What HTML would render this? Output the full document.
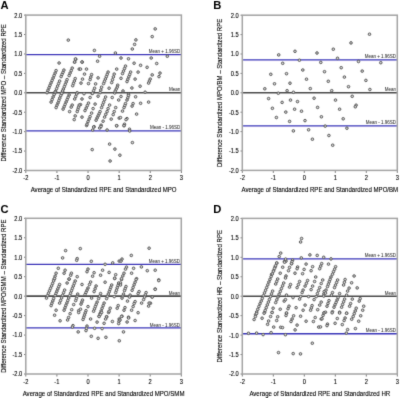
<!DOCTYPE html>
<html><head><meta charset="utf-8"><style>
html,body{margin:0;padding:0;background:#fff;width:400px;height:398px;overflow:hidden;}
svg{display:block;font-family:"Liberation Sans", sans-serif;}
.t{stroke:#000;stroke-width:0.1;}
circle{fill:#d0d0d0;stroke:#505050;stroke-width:0.95;}
</style></head><body>
<svg width="400" height="398" viewBox="0 0 400 398">
<defs><filter id="bl" filterUnits="userSpaceOnUse" x="0" y="0" width="400" height="398"><feConvolveMatrix order="3" kernelMatrix="0.01134 0.08382 0.01134 0.08382 0.61935 0.08382 0.01134 0.08382 0.01134" preserveAlpha="false" edgeMode="duplicate"/></filter></defs>
<rect width="400" height="398" fill="#fff"/>
<g filter="url(#bl)">
<text x="0.5" y="9.3" font-size="11.2" font-weight="bold" fill="#000">A</text>
<text class="t" font-size="5.7" text-anchor="end" fill="#000" transform="translate(22.20,17.50) scale(1,1.1)">2.0</text>
<line x1="24.00" x2="25.80" y1="15.10" y2="15.10" stroke="#6a6a6a" stroke-width="0.9"/>
<text class="t" font-size="5.7" text-anchor="end" fill="#000" transform="translate(22.20,36.92) scale(1,1.1)">1.5</text>
<line x1="24.00" x2="25.80" y1="34.52" y2="34.52" stroke="#6a6a6a" stroke-width="0.9"/>
<text class="t" font-size="5.7" text-anchor="end" fill="#000" transform="translate(22.20,56.35) scale(1,1.1)">1.0</text>
<line x1="24.00" x2="25.80" y1="53.95" y2="53.95" stroke="#6a6a6a" stroke-width="0.9"/>
<text class="t" font-size="5.7" text-anchor="end" fill="#000" transform="translate(22.20,75.78) scale(1,1.1)">0.5</text>
<line x1="24.00" x2="25.80" y1="73.38" y2="73.38" stroke="#6a6a6a" stroke-width="0.9"/>
<text class="t" font-size="5.7" text-anchor="end" fill="#000" transform="translate(22.20,95.20) scale(1,1.1)">0.0</text>
<line x1="24.00" x2="25.80" y1="92.80" y2="92.80" stroke="#6a6a6a" stroke-width="0.9"/>
<text class="t" font-size="5.7" text-anchor="end" fill="#000" transform="translate(22.20,114.62) scale(1,1.1)">-0.5</text>
<line x1="24.00" x2="25.80" y1="112.22" y2="112.22" stroke="#6a6a6a" stroke-width="0.9"/>
<text class="t" font-size="5.7" text-anchor="end" fill="#000" transform="translate(22.20,134.05) scale(1,1.1)">-1.0</text>
<line x1="24.00" x2="25.80" y1="131.65" y2="131.65" stroke="#6a6a6a" stroke-width="0.9"/>
<text class="t" font-size="5.7" text-anchor="end" fill="#000" transform="translate(22.20,153.47) scale(1,1.1)">-1.5</text>
<line x1="24.00" x2="25.80" y1="151.07" y2="151.07" stroke="#6a6a6a" stroke-width="0.9"/>
<text class="t" font-size="5.7" text-anchor="end" fill="#000" transform="translate(22.20,172.90) scale(1,1.1)">-2.0</text>
<line x1="24.00" x2="25.80" y1="170.50" y2="170.50" stroke="#6a6a6a" stroke-width="0.9"/>
<text class="t" font-size="5.7" text-anchor="middle" fill="#000" transform="translate(25.80,180.40) scale(1,1.1)">-2</text>
<line x1="25.80" x2="25.80" y1="170.50" y2="173.00" stroke="#6a6a6a" stroke-width="0.9"/>
<text class="t" font-size="5.7" text-anchor="middle" fill="#000" transform="translate(56.92,180.40) scale(1,1.1)">-1</text>
<line x1="56.92" x2="56.92" y1="170.50" y2="173.00" stroke="#6a6a6a" stroke-width="0.9"/>
<text class="t" font-size="5.7" text-anchor="middle" fill="#000" transform="translate(88.04,180.40) scale(1,1.1)">0</text>
<line x1="88.04" x2="88.04" y1="170.50" y2="173.00" stroke="#6a6a6a" stroke-width="0.9"/>
<text class="t" font-size="5.7" text-anchor="middle" fill="#000" transform="translate(119.16,180.40) scale(1,1.1)">1</text>
<line x1="119.16" x2="119.16" y1="170.50" y2="173.00" stroke="#6a6a6a" stroke-width="0.9"/>
<text class="t" font-size="5.7" text-anchor="middle" fill="#000" transform="translate(150.28,180.40) scale(1,1.1)">2</text>
<line x1="150.28" x2="150.28" y1="170.50" y2="173.00" stroke="#6a6a6a" stroke-width="0.9"/>
<text class="t" font-size="5.7" text-anchor="middle" fill="#000" transform="translate(181.40,180.40) scale(1,1.1)">3</text>
<line x1="181.40" x2="181.40" y1="170.50" y2="173.00" stroke="#6a6a6a" stroke-width="0.9"/>
<text class="t" font-size="6.1" text-anchor="middle" fill="#000" transform="translate(103.60,192.30) scale(1,1.07)">Average of Standardized RPE and Standardized MPO</text>
<text x="0" y="0" class="t" font-size="6.1" fill="#000" text-anchor="middle" transform="translate(6.10,92.80) rotate(-90) scale(1,1.07)">Difference Standardized MPO – Standardized RPE</text>
<line x1="25.8" x2="181.4" y1="92.80" y2="92.80" stroke="#4a4a4a" stroke-width="1.6"/>
<line x1="25.8" x2="181.4" y1="54.53" y2="54.53" stroke="#3a34b8" stroke-width="1.3"/>
<line x1="25.8" x2="181.4" y1="130.87" y2="130.87" stroke="#3a34b8" stroke-width="1.3"/>
<text x="180.20" y="91.40" font-size="4.5" text-anchor="end" fill="#111">Mean</text>
<text x="180.20" y="53.13" font-size="4.5" text-anchor="end" fill="#111">Mean + 1.96SD</text>
<text x="180.20" y="129.47" font-size="4.5" text-anchor="end" fill="#111">Mean - 1.96SD</text>
<circle cx="68.3" cy="40.1" r="1.3"/>
<circle cx="75.8" cy="59.2" r="1.3"/>
<circle cx="74.5" cy="62.1" r="1.3"/>
<circle cx="82.3" cy="62.1" r="1.3"/>
<circle cx="59.1" cy="63.0" r="1.3"/>
<circle cx="94.4" cy="50.4" r="1.3"/>
<circle cx="115.4" cy="53.0" r="1.3"/>
<circle cx="135.9" cy="39.9" r="1.3"/>
<circle cx="134.6" cy="44.4" r="1.3"/>
<circle cx="132.3" cy="49.0" r="1.3"/>
<circle cx="155.2" cy="28.9" r="1.3"/>
<circle cx="152.2" cy="36.6" r="1.3"/>
<circle cx="160.0" cy="73.1" r="1.3"/>
<circle cx="159.0" cy="76.6" r="1.3"/>
<circle cx="167.3" cy="56.2" r="1.3"/>
<circle cx="79.2" cy="69.1" r="1.3"/>
<circle cx="77.2" cy="92.7" r="1.3"/>
<circle cx="99.6" cy="56.2" r="1.3"/>
<circle cx="97.6" cy="61.2" r="1.3"/>
<circle cx="82.0" cy="62.0" r="1.3"/>
<circle cx="86.5" cy="69.1" r="1.3"/>
<circle cx="80.5" cy="69.1" r="1.3"/>
<circle cx="84.5" cy="74.1" r="1.3"/>
<circle cx="82.5" cy="79.1" r="1.3"/>
<circle cx="81.0" cy="83.1" r="1.3"/>
<circle cx="88.5" cy="83.6" r="1.3"/>
<circle cx="98.1" cy="77.9" r="1.3"/>
<circle cx="95.6" cy="83.9" r="1.3"/>
<circle cx="116.7" cy="69.1" r="1.3"/>
<circle cx="109.1" cy="88.2" r="1.3"/>
<circle cx="117.7" cy="85.2" r="1.3"/>
<circle cx="84.0" cy="93.7" r="1.3"/>
<circle cx="121.0" cy="58.0" r="1.3"/>
<circle cx="128.5" cy="58.8" r="1.3"/>
<circle cx="151.2" cy="58.0" r="1.3"/>
<circle cx="134.1" cy="63.2" r="1.3"/>
<circle cx="140.6" cy="65.3" r="1.3"/>
<circle cx="156.7" cy="63.5" r="1.3"/>
<circle cx="147.1" cy="67.3" r="1.3"/>
<circle cx="138.1" cy="72.1" r="1.3"/>
<circle cx="121.0" cy="78.3" r="1.3"/>
<circle cx="135.1" cy="79.1" r="1.3"/>
<circle cx="152.2" cy="74.9" r="1.3"/>
<circle cx="140.1" cy="86.2" r="1.3"/>
<circle cx="131.9" cy="88.0" r="1.3"/>
<circle cx="123.0" cy="91.0" r="1.3"/>
<circle cx="145.1" cy="92.2" r="1.3"/>
<circle cx="128.5" cy="94.2" r="1.3"/>
<circle cx="72.2" cy="105.1" r="1.3"/>
<circle cx="71.2" cy="107.1" r="1.3"/>
<circle cx="69.6" cy="111.6" r="1.3"/>
<circle cx="75.2" cy="115.9" r="1.3"/>
<circle cx="74.2" cy="119.6" r="1.3"/>
<circle cx="92.1" cy="93.5" r="1.3"/>
<circle cx="114.7" cy="93.0" r="1.3"/>
<circle cx="82.0" cy="99.0" r="1.3"/>
<circle cx="90.1" cy="97.5" r="1.3"/>
<circle cx="98.1" cy="96.2" r="1.3"/>
<circle cx="112.2" cy="97.5" r="1.3"/>
<circle cx="118.7" cy="100.0" r="1.3"/>
<circle cx="80.5" cy="104.6" r="1.3"/>
<circle cx="95.1" cy="104.1" r="1.3"/>
<circle cx="93.1" cy="108.6" r="1.3"/>
<circle cx="109.6" cy="105.1" r="1.3"/>
<circle cx="115.7" cy="107.6" r="1.3"/>
<circle cx="108.1" cy="108.6" r="1.3"/>
<circle cx="91.6" cy="113.1" r="1.3"/>
<circle cx="82.0" cy="117.1" r="1.3"/>
<circle cx="103.1" cy="121.2" r="1.3"/>
<circle cx="111.2" cy="119.1" r="1.3"/>
<circle cx="119.2" cy="118.1" r="1.3"/>
<circle cx="101.1" cy="125.2" r="1.3"/>
<circle cx="94.1" cy="126.7" r="1.3"/>
<circle cx="116.7" cy="125.7" r="1.3"/>
<circle cx="121.0" cy="96.5" r="1.3"/>
<circle cx="135.6" cy="96.8" r="1.3"/>
<circle cx="140.6" cy="103.3" r="1.3"/>
<circle cx="148.6" cy="102.1" r="1.3"/>
<circle cx="122.5" cy="111.1" r="1.3"/>
<circle cx="136.6" cy="114.1" r="1.3"/>
<circle cx="120.5" cy="117.6" r="1.3"/>
<circle cx="129.5" cy="129.2" r="1.3"/>
<circle cx="86.6" cy="125.5" r="1.3"/>
<circle cx="99.7" cy="128.0" r="1.3"/>
<circle cx="92.2" cy="149.6" r="1.3"/>
<circle cx="101.0" cy="126.5" r="1.3"/>
<circle cx="116.6" cy="125.8" r="1.3"/>
<circle cx="124.1" cy="125.5" r="1.3"/>
<circle cx="107.1" cy="130.0" r="1.3"/>
<circle cx="129.7" cy="131.0" r="1.3"/>
<circle cx="109.6" cy="144.1" r="1.3"/>
<circle cx="114.9" cy="149.1" r="1.3"/>
<circle cx="119.9" cy="155.2" r="1.3"/>
<circle cx="110.1" cy="161.0" r="1.3"/>
<circle cx="132.4" cy="142.6" r="1.3"/>
<circle cx="47.0" cy="92.7" r="1.3"/>
<circle cx="48.0" cy="90.2" r="1.3"/>
<circle cx="49.0" cy="87.8" r="1.3"/>
<circle cx="50.0" cy="85.3" r="1.3"/>
<circle cx="51.0" cy="82.9" r="1.3"/>
<circle cx="52.1" cy="80.4" r="1.3"/>
<circle cx="53.1" cy="78.0" r="1.3"/>
<circle cx="54.1" cy="75.5" r="1.3"/>
<circle cx="55.1" cy="73.1" r="1.3"/>
<circle cx="56.1" cy="70.6" r="1.3"/>
<circle cx="54.6" cy="93.7" r="1.3"/>
<circle cx="55.6" cy="91.2" r="1.3"/>
<circle cx="56.6" cy="88.7" r="1.3"/>
<circle cx="57.6" cy="86.1" r="1.3"/>
<circle cx="58.6" cy="83.6" r="1.3"/>
<circle cx="59.6" cy="81.1" r="1.3"/>
<circle cx="61.1" cy="76.6" r="1.3"/>
<circle cx="62.0" cy="74.4" r="1.3"/>
<circle cx="63.0" cy="72.3" r="1.3"/>
<circle cx="63.9" cy="70.1" r="1.3"/>
<circle cx="61.6" cy="93.7" r="1.3"/>
<circle cx="62.5" cy="91.3" r="1.3"/>
<circle cx="63.4" cy="89.0" r="1.3"/>
<circle cx="64.3" cy="86.7" r="1.3"/>
<circle cx="65.3" cy="84.3" r="1.3"/>
<circle cx="66.2" cy="81.9" r="1.3"/>
<circle cx="67.1" cy="79.6" r="1.3"/>
<circle cx="69.1" cy="75.6" r="1.3"/>
<circle cx="70.1" cy="73.1" r="1.3"/>
<circle cx="71.2" cy="70.6" r="1.3"/>
<circle cx="72.2" cy="68.1" r="1.3"/>
<circle cx="75.4" cy="59.0" r="1.3"/>
<circle cx="74.7" cy="62.0" r="1.3"/>
<circle cx="72.7" cy="85.7" r="1.3"/>
<circle cx="73.5" cy="83.3" r="1.3"/>
<circle cx="74.4" cy="81.0" r="1.3"/>
<circle cx="75.2" cy="78.6" r="1.3"/>
<circle cx="91.6" cy="74.6" r="1.3"/>
<circle cx="90.8" cy="77.1" r="1.3"/>
<circle cx="90.1" cy="79.6" r="1.3"/>
<circle cx="108.1" cy="72.1" r="1.3"/>
<circle cx="107.2" cy="74.4" r="1.3"/>
<circle cx="106.3" cy="76.7" r="1.3"/>
<circle cx="105.4" cy="79.0" r="1.3"/>
<circle cx="104.5" cy="81.3" r="1.3"/>
<circle cx="103.6" cy="83.6" r="1.3"/>
<circle cx="114.2" cy="74.1" r="1.3"/>
<circle cx="113.4" cy="76.9" r="1.3"/>
<circle cx="112.5" cy="79.8" r="1.3"/>
<circle cx="111.7" cy="82.6" r="1.3"/>
<circle cx="94.6" cy="88.2" r="1.3"/>
<circle cx="93.6" cy="90.7" r="1.3"/>
<circle cx="92.6" cy="93.2" r="1.3"/>
<circle cx="101.6" cy="87.2" r="1.3"/>
<circle cx="100.8" cy="90.0" r="1.3"/>
<circle cx="100.1" cy="92.7" r="1.3"/>
<circle cx="117.2" cy="87.2" r="1.3"/>
<circle cx="116.2" cy="89.2" r="1.3"/>
<circle cx="115.2" cy="91.2" r="1.3"/>
<circle cx="125.5" cy="66.1" r="1.3"/>
<circle cx="124.5" cy="68.6" r="1.3"/>
<circle cx="123.5" cy="71.1" r="1.3"/>
<circle cx="122.5" cy="73.6" r="1.3"/>
<circle cx="130.6" cy="72.1" r="1.3"/>
<circle cx="129.7" cy="74.5" r="1.3"/>
<circle cx="128.8" cy="76.8" r="1.3"/>
<circle cx="127.9" cy="79.2" r="1.3"/>
<circle cx="127.0" cy="81.6" r="1.3"/>
<circle cx="150.2" cy="79.1" r="1.3"/>
<circle cx="149.4" cy="81.1" r="1.3"/>
<circle cx="148.6" cy="83.1" r="1.3"/>
<circle cx="55.1" cy="92.0" r="1.3"/>
<circle cx="54.1" cy="94.5" r="1.3"/>
<circle cx="53.1" cy="97.0" r="1.3"/>
<circle cx="52.1" cy="99.6" r="1.3"/>
<circle cx="51.1" cy="102.1" r="1.3"/>
<circle cx="62.6" cy="91.0" r="1.3"/>
<circle cx="61.7" cy="93.4" r="1.3"/>
<circle cx="60.7" cy="95.7" r="1.3"/>
<circle cx="59.8" cy="98.1" r="1.3"/>
<circle cx="58.9" cy="100.5" r="1.3"/>
<circle cx="58.0" cy="102.9" r="1.3"/>
<circle cx="57.0" cy="105.2" r="1.3"/>
<circle cx="56.1" cy="107.6" r="1.3"/>
<circle cx="69.1" cy="95.0" r="1.3"/>
<circle cx="68.1" cy="97.3" r="1.3"/>
<circle cx="67.1" cy="99.7" r="1.3"/>
<circle cx="66.1" cy="102.0" r="1.3"/>
<circle cx="65.1" cy="104.4" r="1.3"/>
<circle cx="64.1" cy="106.8" r="1.3"/>
<circle cx="63.1" cy="109.1" r="1.3"/>
<circle cx="76.7" cy="94.0" r="1.3"/>
<circle cx="75.7" cy="96.5" r="1.3"/>
<circle cx="74.7" cy="99.0" r="1.3"/>
<circle cx="79.2" cy="105.1" r="1.3"/>
<circle cx="78.5" cy="107.3" r="1.3"/>
<circle cx="77.9" cy="109.4" r="1.3"/>
<circle cx="77.2" cy="111.6" r="1.3"/>
<circle cx="105.6" cy="97.0" r="1.3"/>
<circle cx="104.6" cy="99.7" r="1.3"/>
<circle cx="103.6" cy="102.3" r="1.3"/>
<circle cx="102.6" cy="104.9" r="1.3"/>
<circle cx="101.6" cy="107.6" r="1.3"/>
<circle cx="88.5" cy="103.1" r="1.3"/>
<circle cx="87.3" cy="105.6" r="1.3"/>
<circle cx="86.2" cy="108.1" r="1.3"/>
<circle cx="85.0" cy="110.6" r="1.3"/>
<circle cx="100.1" cy="111.6" r="1.3"/>
<circle cx="99.1" cy="113.8" r="1.3"/>
<circle cx="98.1" cy="115.9" r="1.3"/>
<circle cx="97.1" cy="118.0" r="1.3"/>
<circle cx="96.1" cy="120.2" r="1.3"/>
<circle cx="107.1" cy="111.6" r="1.3"/>
<circle cx="105.8" cy="114.3" r="1.3"/>
<circle cx="104.6" cy="117.1" r="1.3"/>
<circle cx="114.2" cy="111.6" r="1.3"/>
<circle cx="113.2" cy="114.6" r="1.3"/>
<circle cx="90.1" cy="116.6" r="1.3"/>
<circle cx="89.1" cy="119.1" r="1.3"/>
<circle cx="88.0" cy="121.7" r="1.3"/>
<circle cx="87.0" cy="124.2" r="1.3"/>
<circle cx="128.5" cy="95.5" r="1.3"/>
<circle cx="127.8" cy="97.8" r="1.3"/>
<circle cx="127.0" cy="100.0" r="1.3"/>
<circle cx="125.5" cy="103.6" r="1.3"/>
<circle cx="124.8" cy="105.6" r="1.3"/>
<circle cx="124.0" cy="107.6" r="1.3"/>
<circle cx="133.1" cy="103.6" r="1.3"/>
<circle cx="132.1" cy="106.1" r="1.3"/>
<circle cx="127.0" cy="118.6" r="1.3"/>
<circle cx="126.0" cy="119.6" r="1.3"/>
<circle cx="124.5" cy="124.2" r="1.3"/>
<circle cx="124.0" cy="125.7" r="1.3"/>
<circle cx="93.7" cy="127.0" r="1.3"/>
<circle cx="92.7" cy="130.0" r="1.3"/>
<rect x="25.8" y="15.1" width="155.60" height="155.40" fill="none" stroke="#a3a3a3" stroke-width="1.5"/>
<text x="213.2" y="9.3" font-size="11.2" font-weight="bold" fill="#000">B</text>
<text class="t" font-size="5.7" text-anchor="end" fill="#000" transform="translate(238.70,17.60) scale(1,1.1)">2.0</text>
<line x1="240.50" x2="242.30" y1="15.20" y2="15.20" stroke="#6a6a6a" stroke-width="0.9"/>
<text class="t" font-size="5.7" text-anchor="end" fill="#000" transform="translate(238.70,37.00) scale(1,1.1)">1.5</text>
<line x1="240.50" x2="242.30" y1="34.60" y2="34.60" stroke="#6a6a6a" stroke-width="0.9"/>
<text class="t" font-size="5.7" text-anchor="end" fill="#000" transform="translate(238.70,56.40) scale(1,1.1)">1.0</text>
<line x1="240.50" x2="242.30" y1="54.00" y2="54.00" stroke="#6a6a6a" stroke-width="0.9"/>
<text class="t" font-size="5.7" text-anchor="end" fill="#000" transform="translate(238.70,75.80) scale(1,1.1)">0.5</text>
<line x1="240.50" x2="242.30" y1="73.40" y2="73.40" stroke="#6a6a6a" stroke-width="0.9"/>
<text class="t" font-size="5.7" text-anchor="end" fill="#000" transform="translate(238.70,95.20) scale(1,1.1)">0.0</text>
<line x1="240.50" x2="242.30" y1="92.80" y2="92.80" stroke="#6a6a6a" stroke-width="0.9"/>
<text class="t" font-size="5.7" text-anchor="end" fill="#000" transform="translate(238.70,114.60) scale(1,1.1)">-0.5</text>
<line x1="240.50" x2="242.30" y1="112.20" y2="112.20" stroke="#6a6a6a" stroke-width="0.9"/>
<text class="t" font-size="5.7" text-anchor="end" fill="#000" transform="translate(238.70,134.00) scale(1,1.1)">-1.0</text>
<line x1="240.50" x2="242.30" y1="131.60" y2="131.60" stroke="#6a6a6a" stroke-width="0.9"/>
<text class="t" font-size="5.7" text-anchor="end" fill="#000" transform="translate(238.70,153.40) scale(1,1.1)">-1.5</text>
<line x1="240.50" x2="242.30" y1="151.00" y2="151.00" stroke="#6a6a6a" stroke-width="0.9"/>
<text class="t" font-size="5.7" text-anchor="end" fill="#000" transform="translate(238.70,172.80) scale(1,1.1)">-2.0</text>
<line x1="240.50" x2="242.30" y1="170.40" y2="170.40" stroke="#6a6a6a" stroke-width="0.9"/>
<text class="t" font-size="5.7" text-anchor="middle" fill="#000" transform="translate(242.30,180.30) scale(1,1.1)">-2</text>
<line x1="242.30" x2="242.30" y1="170.40" y2="172.90" stroke="#6a6a6a" stroke-width="0.9"/>
<text class="t" font-size="5.7" text-anchor="middle" fill="#000" transform="translate(273.30,180.30) scale(1,1.1)">-1</text>
<line x1="273.30" x2="273.30" y1="170.40" y2="172.90" stroke="#6a6a6a" stroke-width="0.9"/>
<text class="t" font-size="5.7" text-anchor="middle" fill="#000" transform="translate(304.30,180.30) scale(1,1.1)">0</text>
<line x1="304.30" x2="304.30" y1="170.40" y2="172.90" stroke="#6a6a6a" stroke-width="0.9"/>
<text class="t" font-size="5.7" text-anchor="middle" fill="#000" transform="translate(335.30,180.30) scale(1,1.1)">1</text>
<line x1="335.30" x2="335.30" y1="170.40" y2="172.90" stroke="#6a6a6a" stroke-width="0.9"/>
<text class="t" font-size="5.7" text-anchor="middle" fill="#000" transform="translate(366.30,180.30) scale(1,1.1)">2</text>
<line x1="366.30" x2="366.30" y1="170.40" y2="172.90" stroke="#6a6a6a" stroke-width="0.9"/>
<text class="t" font-size="5.7" text-anchor="middle" fill="#000" transform="translate(397.30,180.30) scale(1,1.1)">3</text>
<line x1="397.30" x2="397.30" y1="170.40" y2="172.90" stroke="#6a6a6a" stroke-width="0.9"/>
<text class="t" font-size="6.1" text-anchor="middle" fill="#000" transform="translate(319.80,192.20) scale(1,1.07)">Average of Standardized RPE and Standardized MPO/BM</text>
<text x="0" y="0" class="t" font-size="6.1" fill="#000" text-anchor="middle" transform="translate(222.10,92.80) rotate(-90) scale(1,1.07)">Difference Standardized MPO/BM – Standardized RPE</text>
<line x1="242.3" x2="397.3" y1="92.80" y2="92.80" stroke="#4a4a4a" stroke-width="1.6"/>
<line x1="242.3" x2="397.3" y1="59.82" y2="59.82" stroke="#3a34b8" stroke-width="1.3"/>
<line x1="242.3" x2="397.3" y1="125.78" y2="125.78" stroke="#3a34b8" stroke-width="1.3"/>
<text x="396.10" y="91.40" font-size="4.5" text-anchor="end" fill="#111">Mean</text>
<text x="396.10" y="58.42" font-size="4.5" text-anchor="end" fill="#111">Mean + 1.96SD</text>
<text x="396.10" y="124.38" font-size="4.5" text-anchor="end" fill="#111">Mean - 1.96SD</text>
<circle cx="278.7" cy="54.9" r="1.3"/>
<circle cx="295.0" cy="51.3" r="1.3"/>
<circle cx="282.7" cy="63.3" r="1.3"/>
<circle cx="270.8" cy="74.3" r="1.3"/>
<circle cx="286.5" cy="73.7" r="1.3"/>
<circle cx="317.0" cy="53.0" r="1.3"/>
<circle cx="333.3" cy="49.2" r="1.3"/>
<circle cx="299.4" cy="60.2" r="1.3"/>
<circle cx="320.8" cy="62.4" r="1.3"/>
<circle cx="337.5" cy="58.3" r="1.3"/>
<circle cx="302.8" cy="70.0" r="1.3"/>
<circle cx="324.5" cy="71.7" r="1.3"/>
<circle cx="341.2" cy="67.7" r="1.3"/>
<circle cx="306.5" cy="79.2" r="1.3"/>
<circle cx="344.4" cy="77.1" r="1.3"/>
<circle cx="369.5" cy="34.2" r="1.3"/>
<circle cx="351.0" cy="42.9" r="1.3"/>
<circle cx="358.5" cy="61.5" r="1.3"/>
<circle cx="380.8" cy="62.7" r="1.3"/>
<circle cx="362.2" cy="71.1" r="1.3"/>
<circle cx="274.5" cy="83.8" r="1.3"/>
<circle cx="290.0" cy="83.2" r="1.3"/>
<circle cx="264.8" cy="88.8" r="1.3"/>
<circle cx="278.3" cy="93.2" r="1.3"/>
<circle cx="287.1" cy="90.7" r="1.3"/>
<circle cx="293.4" cy="92.3" r="1.3"/>
<circle cx="268.6" cy="98.6" r="1.3"/>
<circle cx="282.1" cy="102.4" r="1.3"/>
<circle cx="290.5" cy="100.1" r="1.3"/>
<circle cx="272.4" cy="108.3" r="1.3"/>
<circle cx="294.6" cy="109.2" r="1.3"/>
<circle cx="285.8" cy="112.1" r="1.3"/>
<circle cx="276.4" cy="117.5" r="1.3"/>
<circle cx="289.6" cy="121.4" r="1.3"/>
<circle cx="328.3" cy="81.3" r="1.3"/>
<circle cx="310.3" cy="88.6" r="1.3"/>
<circle cx="331.7" cy="90.7" r="1.3"/>
<circle cx="314.1" cy="98.2" r="1.3"/>
<circle cx="297.5" cy="101.6" r="1.3"/>
<circle cx="335.5" cy="100.1" r="1.3"/>
<circle cx="317.6" cy="107.4" r="1.3"/>
<circle cx="301.5" cy="111.2" r="1.3"/>
<circle cx="339.6" cy="109.2" r="1.3"/>
<circle cx="321.4" cy="116.8" r="1.3"/>
<circle cx="305.0" cy="120.6" r="1.3"/>
<circle cx="343.2" cy="118.8" r="1.3"/>
<circle cx="365.9" cy="80.4" r="1.3"/>
<circle cx="348.5" cy="86.7" r="1.3"/>
<circle cx="369.9" cy="89.5" r="1.3"/>
<circle cx="352.2" cy="96.3" r="1.3"/>
<circle cx="356.1" cy="105.2" r="1.3"/>
<circle cx="355.3" cy="106.8" r="1.3"/>
<circle cx="293.4" cy="130.9" r="1.3"/>
<circle cx="325.2" cy="126.1" r="1.3"/>
<circle cx="308.6" cy="129.8" r="1.3"/>
<circle cx="312.4" cy="139.2" r="1.3"/>
<circle cx="328.9" cy="135.5" r="1.3"/>
<circle cx="332.7" cy="145.2" r="1.3"/>
<circle cx="346.9" cy="128.2" r="1.3"/>
<rect x="242.3" y="15.2" width="155.00" height="155.20" fill="none" stroke="#a3a3a3" stroke-width="1.5"/>
<text x="0.5" y="212.8" font-size="11.2" font-weight="bold" fill="#000">C</text>
<text class="t" font-size="5.7" text-anchor="end" fill="#000" transform="translate(22.20,220.70) scale(1,1.1)">2.0</text>
<line x1="24.00" x2="25.80" y1="218.30" y2="218.30" stroke="#6a6a6a" stroke-width="0.9"/>
<text class="t" font-size="5.7" text-anchor="end" fill="#000" transform="translate(22.20,240.16) scale(1,1.1)">1.5</text>
<line x1="24.00" x2="25.80" y1="237.76" y2="237.76" stroke="#6a6a6a" stroke-width="0.9"/>
<text class="t" font-size="5.7" text-anchor="end" fill="#000" transform="translate(22.20,259.62) scale(1,1.1)">1.0</text>
<line x1="24.00" x2="25.80" y1="257.23" y2="257.23" stroke="#6a6a6a" stroke-width="0.9"/>
<text class="t" font-size="5.7" text-anchor="end" fill="#000" transform="translate(22.20,279.09) scale(1,1.1)">0.5</text>
<line x1="24.00" x2="25.80" y1="276.69" y2="276.69" stroke="#6a6a6a" stroke-width="0.9"/>
<text class="t" font-size="5.7" text-anchor="end" fill="#000" transform="translate(22.20,298.55) scale(1,1.1)">0.0</text>
<line x1="24.00" x2="25.80" y1="296.15" y2="296.15" stroke="#6a6a6a" stroke-width="0.9"/>
<text class="t" font-size="5.7" text-anchor="end" fill="#000" transform="translate(22.20,318.01) scale(1,1.1)">-0.5</text>
<line x1="24.00" x2="25.80" y1="315.61" y2="315.61" stroke="#6a6a6a" stroke-width="0.9"/>
<text class="t" font-size="5.7" text-anchor="end" fill="#000" transform="translate(22.20,337.47) scale(1,1.1)">-1.0</text>
<line x1="24.00" x2="25.80" y1="335.07" y2="335.07" stroke="#6a6a6a" stroke-width="0.9"/>
<text class="t" font-size="5.7" text-anchor="end" fill="#000" transform="translate(22.20,356.94) scale(1,1.1)">-1.5</text>
<line x1="24.00" x2="25.80" y1="354.54" y2="354.54" stroke="#6a6a6a" stroke-width="0.9"/>
<text class="t" font-size="5.7" text-anchor="end" fill="#000" transform="translate(22.20,376.40) scale(1,1.1)">-2.0</text>
<line x1="24.00" x2="25.80" y1="374.00" y2="374.00" stroke="#6a6a6a" stroke-width="0.9"/>
<text class="t" font-size="5.7" text-anchor="middle" fill="#000" transform="translate(25.80,383.90) scale(1,1.1)">-2</text>
<line x1="25.80" x2="25.80" y1="374.00" y2="376.50" stroke="#6a6a6a" stroke-width="0.9"/>
<text class="t" font-size="5.7" text-anchor="middle" fill="#000" transform="translate(56.90,383.90) scale(1,1.1)">-1</text>
<line x1="56.90" x2="56.90" y1="374.00" y2="376.50" stroke="#6a6a6a" stroke-width="0.9"/>
<text class="t" font-size="5.7" text-anchor="middle" fill="#000" transform="translate(88.00,383.90) scale(1,1.1)">0</text>
<line x1="88.00" x2="88.00" y1="374.00" y2="376.50" stroke="#6a6a6a" stroke-width="0.9"/>
<text class="t" font-size="5.7" text-anchor="middle" fill="#000" transform="translate(119.10,383.90) scale(1,1.1)">1</text>
<line x1="119.10" x2="119.10" y1="374.00" y2="376.50" stroke="#6a6a6a" stroke-width="0.9"/>
<text class="t" font-size="5.7" text-anchor="middle" fill="#000" transform="translate(150.20,383.90) scale(1,1.1)">2</text>
<line x1="150.20" x2="150.20" y1="374.00" y2="376.50" stroke="#6a6a6a" stroke-width="0.9"/>
<text class="t" font-size="5.7" text-anchor="middle" fill="#000" transform="translate(181.30,383.90) scale(1,1.1)">3</text>
<line x1="181.30" x2="181.30" y1="374.00" y2="376.50" stroke="#6a6a6a" stroke-width="0.9"/>
<text class="t" font-size="6.1" text-anchor="middle" fill="#000" transform="translate(103.55,395.80) scale(1,1.07)">Average of Standardized RPE and Standardized MPO/SMM</text>
<text x="0" y="0" class="t" font-size="6.1" fill="#000" text-anchor="middle" transform="translate(6.10,296.15) rotate(-90) scale(1,1.07)">Difference Standardized MPO/SMM – Standardized RPE</text>
<line x1="25.8" x2="181.3" y1="296.15" y2="296.15" stroke="#4a4a4a" stroke-width="1.6"/>
<line x1="25.8" x2="181.3" y1="264.35" y2="264.35" stroke="#3a34b8" stroke-width="1.3"/>
<line x1="25.8" x2="181.3" y1="327.91" y2="327.91" stroke="#3a34b8" stroke-width="1.3"/>
<text x="180.10" y="294.75" font-size="4.5" text-anchor="end" fill="#111">Mean</text>
<text x="180.10" y="262.95" font-size="4.5" text-anchor="end" fill="#111">Mean + 1.96SD</text>
<text x="180.10" y="326.51" font-size="4.5" text-anchor="end" fill="#111">Mean - 1.96SD</text>
<circle cx="65.6" cy="250.6" r="1.3"/>
<circle cx="62.6" cy="257.9" r="1.3"/>
<circle cx="77.2" cy="258.6" r="1.3"/>
<circle cx="76.7" cy="260.3" r="1.3"/>
<circle cx="80.3" cy="248.6" r="1.3"/>
<circle cx="58.3" cy="268.3" r="1.3"/>
<circle cx="77.2" cy="276.7" r="1.3"/>
<circle cx="69.1" cy="279.2" r="1.3"/>
<circle cx="91.3" cy="261.3" r="1.3"/>
<circle cx="105.1" cy="264.3" r="1.3"/>
<circle cx="112.7" cy="262.9" r="1.3"/>
<circle cx="119.2" cy="261.1" r="1.3"/>
<circle cx="102.6" cy="270.2" r="1.3"/>
<circle cx="100.6" cy="275.2" r="1.3"/>
<circle cx="109.1" cy="272.4" r="1.3"/>
<circle cx="149.1" cy="248.2" r="1.3"/>
<circle cx="131.3" cy="255.4" r="1.3"/>
<circle cx="133.6" cy="268.3" r="1.3"/>
<circle cx="141.4" cy="266.9" r="1.3"/>
<circle cx="147.3" cy="270.7" r="1.3"/>
<circle cx="155.2" cy="270.2" r="1.3"/>
<circle cx="131.6" cy="273.2" r="1.3"/>
<circle cx="136.6" cy="278.7" r="1.3"/>
<circle cx="158.7" cy="279.9" r="1.3"/>
<circle cx="158.8" cy="280.6" r="1.3"/>
<circle cx="155.2" cy="289.1" r="1.3"/>
<circle cx="152.0" cy="296.7" r="1.3"/>
<circle cx="150.5" cy="303.2" r="1.3"/>
<circle cx="69.1" cy="279.0" r="1.3"/>
<circle cx="67.1" cy="283.0" r="1.3"/>
<circle cx="73.7" cy="304.6" r="1.3"/>
<circle cx="71.7" cy="309.7" r="1.3"/>
<circle cx="78.7" cy="310.7" r="1.3"/>
<circle cx="56.1" cy="310.2" r="1.3"/>
<circle cx="54.6" cy="315.2" r="1.3"/>
<circle cx="70.1" cy="313.7" r="1.3"/>
<circle cx="82.0" cy="284.5" r="1.3"/>
<circle cx="105.1" cy="282.2" r="1.3"/>
<circle cx="114.7" cy="278.5" r="1.3"/>
<circle cx="91.6" cy="298.1" r="1.3"/>
<circle cx="114.2" cy="296.6" r="1.3"/>
<circle cx="88.0" cy="306.6" r="1.3"/>
<circle cx="80.5" cy="309.2" r="1.3"/>
<circle cx="106.6" cy="316.7" r="1.3"/>
<circle cx="121.5" cy="279.5" r="1.3"/>
<circle cx="132.1" cy="290.3" r="1.3"/>
<circle cx="155.2" cy="289.3" r="1.3"/>
<circle cx="152.2" cy="297.1" r="1.3"/>
<circle cx="143.6" cy="299.6" r="1.3"/>
<circle cx="127.5" cy="301.1" r="1.3"/>
<circle cx="141.6" cy="303.1" r="1.3"/>
<circle cx="133.1" cy="306.6" r="1.3"/>
<circle cx="131.6" cy="310.2" r="1.3"/>
<circle cx="138.1" cy="312.7" r="1.3"/>
<circle cx="122.0" cy="316.2" r="1.3"/>
<circle cx="128.5" cy="317.2" r="1.3"/>
<circle cx="60.1" cy="320.8" r="1.3"/>
<circle cx="73.0" cy="325.6" r="1.3"/>
<circle cx="72.4" cy="327.1" r="1.3"/>
<circle cx="78.2" cy="331.9" r="1.3"/>
<circle cx="78.7" cy="312.5" r="1.3"/>
<circle cx="108.6" cy="312.5" r="1.3"/>
<circle cx="90.6" cy="319.0" r="1.3"/>
<circle cx="97.1" cy="322.1" r="1.3"/>
<circle cx="104.1" cy="323.3" r="1.3"/>
<circle cx="112.4" cy="321.5" r="1.3"/>
<circle cx="94.6" cy="328.3" r="1.3"/>
<circle cx="102.1" cy="328.6" r="1.3"/>
<circle cx="91.3" cy="336.3" r="1.3"/>
<circle cx="98.1" cy="338.3" r="1.3"/>
<circle cx="105.9" cy="337.3" r="1.3"/>
<circle cx="119.3" cy="340.8" r="1.3"/>
<circle cx="128.6" cy="318.0" r="1.3"/>
<circle cx="127.1" cy="322.0" r="1.3"/>
<circle cx="135.1" cy="320.5" r="1.3"/>
<circle cx="123.5" cy="331.9" r="1.3"/>
<circle cx="65.1" cy="270.2" r="1.3"/>
<circle cx="64.1" cy="273.2" r="1.3"/>
<circle cx="56.1" cy="273.2" r="1.3"/>
<circle cx="55.1" cy="276.2" r="1.3"/>
<circle cx="54.1" cy="279.2" r="1.3"/>
<circle cx="71.4" cy="273.2" r="1.3"/>
<circle cx="70.7" cy="275.2" r="1.3"/>
<circle cx="88.0" cy="269.1" r="1.3"/>
<circle cx="87.0" cy="271.7" r="1.3"/>
<circle cx="94.1" cy="272.7" r="1.3"/>
<circle cx="92.6" cy="276.2" r="1.3"/>
<circle cx="115.7" cy="274.7" r="1.3"/>
<circle cx="114.7" cy="278.2" r="1.3"/>
<circle cx="122.0" cy="259.1" r="1.3"/>
<circle cx="121.0" cy="261.1" r="1.3"/>
<circle cx="126.5" cy="267.1" r="1.3"/>
<circle cx="125.5" cy="269.1" r="1.3"/>
<circle cx="124.0" cy="273.2" r="1.3"/>
<circle cx="122.8" cy="275.9" r="1.3"/>
<circle cx="121.5" cy="278.7" r="1.3"/>
<circle cx="54.6" cy="278.5" r="1.3"/>
<circle cx="53.6" cy="280.9" r="1.3"/>
<circle cx="52.6" cy="283.4" r="1.3"/>
<circle cx="51.6" cy="285.9" r="1.3"/>
<circle cx="50.5" cy="288.3" r="1.3"/>
<circle cx="49.5" cy="290.8" r="1.3"/>
<circle cx="48.5" cy="293.2" r="1.3"/>
<circle cx="47.5" cy="295.7" r="1.3"/>
<circle cx="46.5" cy="298.1" r="1.3"/>
<circle cx="59.6" cy="284.5" r="1.3"/>
<circle cx="58.7" cy="286.7" r="1.3"/>
<circle cx="57.8" cy="288.9" r="1.3"/>
<circle cx="56.9" cy="291.2" r="1.3"/>
<circle cx="56.0" cy="293.4" r="1.3"/>
<circle cx="55.1" cy="295.6" r="1.3"/>
<circle cx="53.6" cy="298.6" r="1.3"/>
<circle cx="52.8" cy="300.9" r="1.3"/>
<circle cx="51.9" cy="303.3" r="1.3"/>
<circle cx="51.1" cy="305.6" r="1.3"/>
<circle cx="64.6" cy="290.1" r="1.3"/>
<circle cx="63.6" cy="292.7" r="1.3"/>
<circle cx="62.6" cy="295.3" r="1.3"/>
<circle cx="61.6" cy="297.9" r="1.3"/>
<circle cx="60.6" cy="300.5" r="1.3"/>
<circle cx="59.6" cy="303.1" r="1.3"/>
<circle cx="75.2" cy="281.0" r="1.3"/>
<circle cx="74.3" cy="283.4" r="1.3"/>
<circle cx="73.3" cy="285.9" r="1.3"/>
<circle cx="72.4" cy="288.3" r="1.3"/>
<circle cx="71.5" cy="290.7" r="1.3"/>
<circle cx="70.6" cy="293.2" r="1.3"/>
<circle cx="69.7" cy="295.6" r="1.3"/>
<circle cx="68.7" cy="298.0" r="1.3"/>
<circle cx="67.8" cy="300.5" r="1.3"/>
<circle cx="66.9" cy="302.9" r="1.3"/>
<circle cx="65.9" cy="305.3" r="1.3"/>
<circle cx="65.0" cy="307.8" r="1.3"/>
<circle cx="64.1" cy="310.2" r="1.3"/>
<circle cx="77.7" cy="294.1" r="1.3"/>
<circle cx="77.0" cy="296.3" r="1.3"/>
<circle cx="76.4" cy="298.4" r="1.3"/>
<circle cx="75.7" cy="300.6" r="1.3"/>
<circle cx="90.6" cy="282.0" r="1.3"/>
<circle cx="89.5" cy="284.5" r="1.3"/>
<circle cx="96.1" cy="286.0" r="1.3"/>
<circle cx="95.1" cy="288.8" r="1.3"/>
<circle cx="94.1" cy="291.6" r="1.3"/>
<circle cx="88.0" cy="288.0" r="1.3"/>
<circle cx="87.0" cy="290.2" r="1.3"/>
<circle cx="86.0" cy="292.4" r="1.3"/>
<circle cx="85.0" cy="294.6" r="1.3"/>
<circle cx="111.7" cy="285.0" r="1.3"/>
<circle cx="110.8" cy="287.3" r="1.3"/>
<circle cx="110.0" cy="289.5" r="1.3"/>
<circle cx="109.2" cy="291.8" r="1.3"/>
<circle cx="108.3" cy="294.1" r="1.3"/>
<circle cx="107.4" cy="296.3" r="1.3"/>
<circle cx="106.6" cy="298.6" r="1.3"/>
<circle cx="118.7" cy="283.0" r="1.3"/>
<circle cx="118.0" cy="285.4" r="1.3"/>
<circle cx="117.2" cy="287.8" r="1.3"/>
<circle cx="116.5" cy="290.2" r="1.3"/>
<circle cx="115.7" cy="292.6" r="1.3"/>
<circle cx="100.6" cy="293.6" r="1.3"/>
<circle cx="99.6" cy="296.1" r="1.3"/>
<circle cx="98.6" cy="298.6" r="1.3"/>
<circle cx="82.5" cy="300.1" r="1.3"/>
<circle cx="81.8" cy="302.1" r="1.3"/>
<circle cx="81.0" cy="304.1" r="1.3"/>
<circle cx="97.1" cy="302.1" r="1.3"/>
<circle cx="96.2" cy="304.4" r="1.3"/>
<circle cx="95.3" cy="306.6" r="1.3"/>
<circle cx="94.5" cy="308.9" r="1.3"/>
<circle cx="93.6" cy="311.2" r="1.3"/>
<circle cx="104.1" cy="303.1" r="1.3"/>
<circle cx="103.1" cy="305.7" r="1.3"/>
<circle cx="102.1" cy="308.3" r="1.3"/>
<circle cx="101.1" cy="311.0" r="1.3"/>
<circle cx="100.1" cy="313.6" r="1.3"/>
<circle cx="99.1" cy="316.2" r="1.3"/>
<circle cx="110.2" cy="308.2" r="1.3"/>
<circle cx="109.1" cy="311.2" r="1.3"/>
<circle cx="118.2" cy="305.6" r="1.3"/>
<circle cx="117.2" cy="308.2" r="1.3"/>
<circle cx="86.0" cy="310.7" r="1.3"/>
<circle cx="85.2" cy="312.9" r="1.3"/>
<circle cx="84.5" cy="315.1" r="1.3"/>
<circle cx="83.8" cy="317.3" r="1.3"/>
<circle cx="83.0" cy="319.5" r="1.3"/>
<circle cx="120.5" cy="283.0" r="1.3"/>
<circle cx="120.5" cy="285.0" r="1.3"/>
<circle cx="136.1" cy="279.5" r="1.3"/>
<circle cx="135.1" cy="282.2" r="1.3"/>
<circle cx="134.1" cy="284.8" r="1.3"/>
<circle cx="133.1" cy="287.5" r="1.3"/>
<circle cx="126.0" cy="286.5" r="1.3"/>
<circle cx="125.2" cy="288.6" r="1.3"/>
<circle cx="124.5" cy="290.6" r="1.3"/>
<circle cx="139.1" cy="291.6" r="1.3"/>
<circle cx="138.1" cy="293.6" r="1.3"/>
<circle cx="146.1" cy="292.6" r="1.3"/>
<circle cx="145.3" cy="294.9" r="1.3"/>
<circle cx="144.6" cy="297.1" r="1.3"/>
<circle cx="123.5" cy="294.1" r="1.3"/>
<circle cx="122.8" cy="296.1" r="1.3"/>
<circle cx="122.0" cy="298.1" r="1.3"/>
<circle cx="130.1" cy="295.1" r="1.3"/>
<circle cx="129.5" cy="297.1" r="1.3"/>
<circle cx="135.1" cy="301.6" r="1.3"/>
<circle cx="134.1" cy="303.6" r="1.3"/>
<circle cx="149.1" cy="303.1" r="1.3"/>
<circle cx="148.6" cy="306.1" r="1.3"/>
<circle cx="125.0" cy="307.6" r="1.3"/>
<circle cx="124.0" cy="310.2" r="1.3"/>
<circle cx="68.6" cy="317.5" r="1.3"/>
<circle cx="67.6" cy="320.0" r="1.3"/>
<circle cx="101.6" cy="312.5" r="1.3"/>
<circle cx="100.3" cy="314.5" r="1.3"/>
<circle cx="99.1" cy="316.5" r="1.3"/>
<circle cx="106.6" cy="317.0" r="1.3"/>
<circle cx="105.6" cy="319.0" r="1.3"/>
<circle cx="119.2" cy="319.0" r="1.3"/>
<circle cx="119.0" cy="321.3" r="1.3"/>
<circle cx="118.7" cy="323.6" r="1.3"/>
<circle cx="87.0" cy="326.1" r="1.3"/>
<circle cx="86.5" cy="328.4" r="1.3"/>
<circle cx="86.0" cy="330.6" r="1.3"/>
<circle cx="121.5" cy="316.5" r="1.3"/>
<circle cx="120.0" cy="320.0" r="1.3"/>
<rect x="25.8" y="218.3" width="155.50" height="155.70" fill="none" stroke="#a3a3a3" stroke-width="1.5"/>
<text x="213.2" y="212.8" font-size="11.2" font-weight="bold" fill="#000">D</text>
<text class="t" font-size="5.7" text-anchor="end" fill="#000" transform="translate(238.70,220.80) scale(1,1.1)">2.0</text>
<line x1="240.50" x2="242.30" y1="218.40" y2="218.40" stroke="#6a6a6a" stroke-width="0.9"/>
<text class="t" font-size="5.7" text-anchor="end" fill="#000" transform="translate(238.70,240.25) scale(1,1.1)">1.5</text>
<line x1="240.50" x2="242.30" y1="237.85" y2="237.85" stroke="#6a6a6a" stroke-width="0.9"/>
<text class="t" font-size="5.7" text-anchor="end" fill="#000" transform="translate(238.70,259.70) scale(1,1.1)">1.0</text>
<line x1="240.50" x2="242.30" y1="257.30" y2="257.30" stroke="#6a6a6a" stroke-width="0.9"/>
<text class="t" font-size="5.7" text-anchor="end" fill="#000" transform="translate(238.70,279.15) scale(1,1.1)">0.5</text>
<line x1="240.50" x2="242.30" y1="276.75" y2="276.75" stroke="#6a6a6a" stroke-width="0.9"/>
<text class="t" font-size="5.7" text-anchor="end" fill="#000" transform="translate(238.70,298.60) scale(1,1.1)">0.0</text>
<line x1="240.50" x2="242.30" y1="296.20" y2="296.20" stroke="#6a6a6a" stroke-width="0.9"/>
<text class="t" font-size="5.7" text-anchor="end" fill="#000" transform="translate(238.70,318.05) scale(1,1.1)">-0.5</text>
<line x1="240.50" x2="242.30" y1="315.65" y2="315.65" stroke="#6a6a6a" stroke-width="0.9"/>
<text class="t" font-size="5.7" text-anchor="end" fill="#000" transform="translate(238.70,337.50) scale(1,1.1)">-1.0</text>
<line x1="240.50" x2="242.30" y1="335.10" y2="335.10" stroke="#6a6a6a" stroke-width="0.9"/>
<text class="t" font-size="5.7" text-anchor="end" fill="#000" transform="translate(238.70,356.95) scale(1,1.1)">-1.5</text>
<line x1="240.50" x2="242.30" y1="354.55" y2="354.55" stroke="#6a6a6a" stroke-width="0.9"/>
<text class="t" font-size="5.7" text-anchor="end" fill="#000" transform="translate(238.70,376.40) scale(1,1.1)">-2.0</text>
<line x1="240.50" x2="242.30" y1="374.00" y2="374.00" stroke="#6a6a6a" stroke-width="0.9"/>
<text class="t" font-size="5.7" text-anchor="middle" fill="#000" transform="translate(242.30,383.90) scale(1,1.1)">-2</text>
<line x1="242.30" x2="242.30" y1="374.00" y2="376.50" stroke="#6a6a6a" stroke-width="0.9"/>
<text class="t" font-size="5.7" text-anchor="middle" fill="#000" transform="translate(273.30,383.90) scale(1,1.1)">-1</text>
<line x1="273.30" x2="273.30" y1="374.00" y2="376.50" stroke="#6a6a6a" stroke-width="0.9"/>
<text class="t" font-size="5.7" text-anchor="middle" fill="#000" transform="translate(304.30,383.90) scale(1,1.1)">0</text>
<line x1="304.30" x2="304.30" y1="374.00" y2="376.50" stroke="#6a6a6a" stroke-width="0.9"/>
<text class="t" font-size="5.7" text-anchor="middle" fill="#000" transform="translate(335.30,383.90) scale(1,1.1)">1</text>
<line x1="335.30" x2="335.30" y1="374.00" y2="376.50" stroke="#6a6a6a" stroke-width="0.9"/>
<text class="t" font-size="5.7" text-anchor="middle" fill="#000" transform="translate(366.30,383.90) scale(1,1.1)">2</text>
<line x1="366.30" x2="366.30" y1="374.00" y2="376.50" stroke="#6a6a6a" stroke-width="0.9"/>
<text class="t" font-size="5.7" text-anchor="middle" fill="#000" transform="translate(397.30,383.90) scale(1,1.1)">3</text>
<line x1="397.30" x2="397.30" y1="374.00" y2="376.50" stroke="#6a6a6a" stroke-width="0.9"/>
<text class="t" font-size="6.1" text-anchor="middle" fill="#000" transform="translate(319.80,395.80) scale(1,1.07)">Average of Standardized RPE and Standardized HR</text>
<text x="0" y="0" class="t" font-size="6.1" fill="#000" text-anchor="middle" transform="translate(222.10,296.20) rotate(-90) scale(1,1.07)">Difference Standardized HR – Standardized RPE</text>
<line x1="242.3" x2="397.3" y1="296.20" y2="296.20" stroke="#4a4a4a" stroke-width="1.6"/>
<line x1="242.3" x2="397.3" y1="258.86" y2="258.86" stroke="#3a34b8" stroke-width="1.3"/>
<line x1="242.3" x2="397.3" y1="333.74" y2="333.74" stroke="#3a34b8" stroke-width="1.3"/>
<text x="396.10" y="294.80" font-size="4.5" text-anchor="end" fill="#111">Mean</text>
<text x="396.10" y="257.46" font-size="4.5" text-anchor="end" fill="#111">Mean + 1.96SD</text>
<text x="396.10" y="332.34" font-size="4.5" text-anchor="end" fill="#111">Mean - 1.96SD</text>
<circle cx="276.7" cy="263.1" r="1.3"/>
<circle cx="275.2" cy="266.7" r="1.3"/>
<circle cx="273.6" cy="270.7" r="1.3"/>
<circle cx="271.6" cy="274.4" r="1.3"/>
<circle cx="282.7" cy="267.2" r="1.3"/>
<circle cx="280.2" cy="273.2" r="1.3"/>
<circle cx="284.4" cy="261.6" r="1.3"/>
<circle cx="301.6" cy="238.5" r="1.3"/>
<circle cx="300.6" cy="242.0" r="1.3"/>
<circle cx="309.9" cy="254.9" r="1.3"/>
<circle cx="317.2" cy="255.4" r="1.3"/>
<circle cx="323.7" cy="257.3" r="1.3"/>
<circle cx="301.3" cy="257.9" r="1.3"/>
<circle cx="286.0" cy="261.1" r="1.3"/>
<circle cx="306.1" cy="264.1" r="1.3"/>
<circle cx="289.5" cy="267.4" r="1.3"/>
<circle cx="288.5" cy="270.7" r="1.3"/>
<circle cx="304.1" cy="269.4" r="1.3"/>
<circle cx="295.0" cy="273.2" r="1.3"/>
<circle cx="302.6" cy="273.7" r="1.3"/>
<circle cx="331.0" cy="258.9" r="1.3"/>
<circle cx="328.5" cy="264.1" r="1.3"/>
<circle cx="284.2" cy="301.1" r="1.3"/>
<circle cx="273.1" cy="308.2" r="1.3"/>
<circle cx="272.1" cy="312.4" r="1.3"/>
<circle cx="280.2" cy="309.2" r="1.3"/>
<circle cx="315.7" cy="277.0" r="1.3"/>
<circle cx="314.6" cy="281.5" r="1.3"/>
<circle cx="286.5" cy="295.1" r="1.3"/>
<circle cx="293.0" cy="297.6" r="1.3"/>
<circle cx="308.6" cy="296.6" r="1.3"/>
<circle cx="314.1" cy="299.6" r="1.3"/>
<circle cx="285.5" cy="299.6" r="1.3"/>
<circle cx="305.1" cy="305.1" r="1.3"/>
<circle cx="296.1" cy="307.7" r="1.3"/>
<circle cx="303.1" cy="310.2" r="1.3"/>
<circle cx="317.7" cy="309.7" r="1.3"/>
<circle cx="286.5" cy="313.2" r="1.3"/>
<circle cx="324.2" cy="312.7" r="1.3"/>
<circle cx="354.1" cy="276.0" r="1.3"/>
<circle cx="351.6" cy="282.8" r="1.3"/>
<circle cx="357.2" cy="287.9" r="1.3"/>
<circle cx="339.6" cy="293.6" r="1.3"/>
<circle cx="346.6" cy="295.1" r="1.3"/>
<circle cx="352.3" cy="299.1" r="1.3"/>
<circle cx="332.5" cy="311.7" r="1.3"/>
<circle cx="339.6" cy="312.2" r="1.3"/>
<circle cx="346.6" cy="313.2" r="1.3"/>
<circle cx="325.5" cy="312.2" r="1.3"/>
<circle cx="360.7" cy="315.8" r="1.3"/>
<circle cx="264.6" cy="312.5" r="1.3"/>
<circle cx="272.1" cy="312.5" r="1.3"/>
<circle cx="262.1" cy="318.2" r="1.3"/>
<circle cx="270.6" cy="316.5" r="1.3"/>
<circle cx="268.6" cy="321.0" r="1.3"/>
<circle cx="267.6" cy="324.3" r="1.3"/>
<circle cx="277.7" cy="316.8" r="1.3"/>
<circle cx="276.7" cy="320.5" r="1.3"/>
<circle cx="273.7" cy="327.1" r="1.3"/>
<circle cx="280.7" cy="327.3" r="1.3"/>
<circle cx="248.5" cy="333.3" r="1.3"/>
<circle cx="256.6" cy="333.1" r="1.3"/>
<circle cx="263.1" cy="334.6" r="1.3"/>
<circle cx="271.1" cy="332.6" r="1.3"/>
<circle cx="293.6" cy="315.8" r="1.3"/>
<circle cx="300.6" cy="316.2" r="1.3"/>
<circle cx="306.1" cy="321.2" r="1.3"/>
<circle cx="315.2" cy="317.5" r="1.3"/>
<circle cx="313.4" cy="321.5" r="1.3"/>
<circle cx="321.2" cy="319.0" r="1.3"/>
<circle cx="297.1" cy="325.1" r="1.3"/>
<circle cx="295.1" cy="329.9" r="1.3"/>
<circle cx="318.7" cy="327.1" r="1.3"/>
<circle cx="282.5" cy="327.6" r="1.3"/>
<circle cx="285.4" cy="334.7" r="1.3"/>
<circle cx="332.1" cy="312.8" r="1.3"/>
<circle cx="339.6" cy="313.0" r="1.3"/>
<circle cx="346.6" cy="313.2" r="1.3"/>
<circle cx="322.0" cy="318.8" r="1.3"/>
<circle cx="337.3" cy="318.5" r="1.3"/>
<circle cx="351.7" cy="319.2" r="1.3"/>
<circle cx="358.7" cy="321.2" r="1.3"/>
<circle cx="335.1" cy="323.3" r="1.3"/>
<circle cx="342.3" cy="324.6" r="1.3"/>
<circle cx="320.5" cy="326.9" r="1.3"/>
<circle cx="347.6" cy="329.6" r="1.3"/>
<circle cx="355.4" cy="328.6" r="1.3"/>
<circle cx="346.3" cy="333.1" r="1.3"/>
<circle cx="278.5" cy="352.6" r="1.3"/>
<circle cx="293.2" cy="353.6" r="1.3"/>
<circle cx="300.5" cy="353.9" r="1.3"/>
<circle cx="312.3" cy="343.2" r="1.3"/>
<circle cx="280.7" cy="253.1" r="1.3"/>
<circle cx="279.2" cy="256.6" r="1.3"/>
<circle cx="285.6" cy="259.1" r="1.3"/>
<circle cx="284.6" cy="262.2" r="1.3"/>
<circle cx="292.6" cy="260.1" r="1.3"/>
<circle cx="291.6" cy="263.7" r="1.3"/>
<circle cx="292.0" cy="261.6" r="1.3"/>
<circle cx="291.5" cy="263.6" r="1.3"/>
<circle cx="297.6" cy="267.0" r="1.3"/>
<circle cx="297.1" cy="268.7" r="1.3"/>
<circle cx="312.6" cy="266.7" r="1.3"/>
<circle cx="311.1" cy="270.7" r="1.3"/>
<circle cx="321.7" cy="263.6" r="1.3"/>
<circle cx="320.7" cy="266.1" r="1.3"/>
<circle cx="319.7" cy="268.7" r="1.3"/>
<circle cx="335.6" cy="266.7" r="1.3"/>
<circle cx="334.6" cy="269.2" r="1.3"/>
<circle cx="333.5" cy="271.7" r="1.3"/>
<circle cx="332.5" cy="274.2" r="1.3"/>
<circle cx="276.7" cy="263.0" r="1.3"/>
<circle cx="275.6" cy="265.7" r="1.3"/>
<circle cx="274.5" cy="268.4" r="1.3"/>
<circle cx="273.4" cy="271.2" r="1.3"/>
<circle cx="272.3" cy="273.9" r="1.3"/>
<circle cx="271.1" cy="276.6" r="1.3"/>
<circle cx="270.0" cy="279.3" r="1.3"/>
<circle cx="268.9" cy="282.0" r="1.3"/>
<circle cx="267.8" cy="284.8" r="1.3"/>
<circle cx="266.7" cy="287.5" r="1.3"/>
<circle cx="265.6" cy="290.2" r="1.3"/>
<circle cx="264.5" cy="292.9" r="1.3"/>
<circle cx="263.4" cy="295.7" r="1.3"/>
<circle cx="262.3" cy="298.4" r="1.3"/>
<circle cx="261.2" cy="301.1" r="1.3"/>
<circle cx="260.0" cy="303.8" r="1.3"/>
<circle cx="258.9" cy="306.5" r="1.3"/>
<circle cx="257.8" cy="309.3" r="1.3"/>
<circle cx="256.7" cy="312.0" r="1.3"/>
<circle cx="255.6" cy="314.7" r="1.3"/>
<circle cx="277.7" cy="279.0" r="1.3"/>
<circle cx="276.7" cy="281.5" r="1.3"/>
<circle cx="275.7" cy="284.0" r="1.3"/>
<circle cx="272.6" cy="291.1" r="1.3"/>
<circle cx="271.5" cy="293.9" r="1.3"/>
<circle cx="270.5" cy="296.6" r="1.3"/>
<circle cx="269.4" cy="299.4" r="1.3"/>
<circle cx="268.4" cy="302.1" r="1.3"/>
<circle cx="267.3" cy="304.9" r="1.3"/>
<circle cx="266.2" cy="307.7" r="1.3"/>
<circle cx="265.2" cy="310.4" r="1.3"/>
<circle cx="264.1" cy="313.2" r="1.3"/>
<circle cx="283.7" cy="283.0" r="1.3"/>
<circle cx="282.6" cy="285.8" r="1.3"/>
<circle cx="281.4" cy="288.6" r="1.3"/>
<circle cx="280.3" cy="291.4" r="1.3"/>
<circle cx="279.1" cy="294.2" r="1.3"/>
<circle cx="278.0" cy="297.0" r="1.3"/>
<circle cx="276.8" cy="299.8" r="1.3"/>
<circle cx="275.7" cy="302.6" r="1.3"/>
<circle cx="286.0" cy="276.0" r="1.3"/>
<circle cx="285.5" cy="278.0" r="1.3"/>
<circle cx="290.5" cy="284.5" r="1.3"/>
<circle cx="289.5" cy="287.1" r="1.3"/>
<circle cx="299.6" cy="281.5" r="1.3"/>
<circle cx="298.4" cy="284.6" r="1.3"/>
<circle cx="297.1" cy="287.6" r="1.3"/>
<circle cx="307.6" cy="280.5" r="1.3"/>
<circle cx="306.4" cy="283.3" r="1.3"/>
<circle cx="305.1" cy="286.1" r="1.3"/>
<circle cx="322.7" cy="280.0" r="1.3"/>
<circle cx="321.2" cy="283.5" r="1.3"/>
<circle cx="312.6" cy="286.1" r="1.3"/>
<circle cx="311.1" cy="289.6" r="1.3"/>
<circle cx="303.1" cy="290.1" r="1.3"/>
<circle cx="302.1" cy="292.6" r="1.3"/>
<circle cx="319.7" cy="287.6" r="1.3"/>
<circle cx="318.5" cy="290.6" r="1.3"/>
<circle cx="317.4" cy="293.6" r="1.3"/>
<circle cx="316.2" cy="296.6" r="1.3"/>
<circle cx="324.2" cy="291.6" r="1.3"/>
<circle cx="323.9" cy="293.9" r="1.3"/>
<circle cx="323.7" cy="296.1" r="1.3"/>
<circle cx="300.6" cy="296.6" r="1.3"/>
<circle cx="299.6" cy="299.1" r="1.3"/>
<circle cx="321.2" cy="302.1" r="1.3"/>
<circle cx="319.7" cy="305.1" r="1.3"/>
<circle cx="312.1" cy="305.6" r="1.3"/>
<circle cx="311.4" cy="307.9" r="1.3"/>
<circle cx="310.6" cy="310.2" r="1.3"/>
<circle cx="289.0" cy="306.2" r="1.3"/>
<circle cx="288.0" cy="308.7" r="1.3"/>
<circle cx="331.0" cy="277.0" r="1.3"/>
<circle cx="330.1" cy="279.4" r="1.3"/>
<circle cx="329.2" cy="281.8" r="1.3"/>
<circle cx="328.4" cy="284.2" r="1.3"/>
<circle cx="327.5" cy="286.6" r="1.3"/>
<circle cx="337.6" cy="280.0" r="1.3"/>
<circle cx="336.6" cy="282.5" r="1.3"/>
<circle cx="335.5" cy="285.1" r="1.3"/>
<circle cx="334.5" cy="287.6" r="1.3"/>
<circle cx="345.1" cy="279.5" r="1.3"/>
<circle cx="344.4" cy="282.2" r="1.3"/>
<circle cx="343.6" cy="285.0" r="1.3"/>
<circle cx="349.1" cy="288.1" r="1.3"/>
<circle cx="347.6" cy="291.1" r="1.3"/>
<circle cx="326.0" cy="290.1" r="1.3"/>
<circle cx="325.5" cy="293.1" r="1.3"/>
<circle cx="332.5" cy="292.6" r="1.3"/>
<circle cx="331.5" cy="295.1" r="1.3"/>
<circle cx="338.1" cy="297.6" r="1.3"/>
<circle cx="337.1" cy="300.0" r="1.3"/>
<circle cx="336.1" cy="302.4" r="1.3"/>
<circle cx="335.0" cy="304.8" r="1.3"/>
<circle cx="334.0" cy="307.2" r="1.3"/>
<circle cx="329.0" cy="300.6" r="1.3"/>
<circle cx="328.0" cy="303.4" r="1.3"/>
<circle cx="327.0" cy="306.2" r="1.3"/>
<circle cx="344.6" cy="299.1" r="1.3"/>
<circle cx="343.6" cy="301.8" r="1.3"/>
<circle cx="342.6" cy="304.5" r="1.3"/>
<circle cx="341.6" cy="307.2" r="1.3"/>
<circle cx="360.2" cy="298.6" r="1.3"/>
<circle cx="359.2" cy="301.1" r="1.3"/>
<circle cx="350.6" cy="303.6" r="1.3"/>
<circle cx="349.6" cy="306.2" r="1.3"/>
<circle cx="356.2" cy="308.2" r="1.3"/>
<circle cx="355.2" cy="311.0" r="1.3"/>
<circle cx="354.2" cy="313.7" r="1.3"/>
<circle cx="353.2" cy="316.5" r="1.3"/>
<circle cx="363.7" cy="306.2" r="1.3"/>
<circle cx="362.7" cy="310.2" r="1.3"/>
<circle cx="256.6" cy="313.5" r="1.3"/>
<circle cx="255.4" cy="316.5" r="1.3"/>
<circle cx="254.1" cy="319.5" r="1.3"/>
<circle cx="286.5" cy="313.0" r="1.3"/>
<circle cx="286.0" cy="315.5" r="1.3"/>
<circle cx="292.1" cy="319.0" r="1.3"/>
<circle cx="291.0" cy="321.5" r="1.3"/>
<circle cx="324.0" cy="313.0" r="1.3"/>
<circle cx="323.0" cy="315.5" r="1.3"/>
<circle cx="345.1" cy="318.0" r="1.3"/>
<circle cx="344.1" cy="320.5" r="1.3"/>
<circle cx="327.5" cy="324.1" r="1.3"/>
<circle cx="327.0" cy="325.6" r="1.3"/>
<rect x="242.3" y="218.4" width="155.00" height="155.60" fill="none" stroke="#a3a3a3" stroke-width="1.5"/>
</g>
</svg>
</body></html>
